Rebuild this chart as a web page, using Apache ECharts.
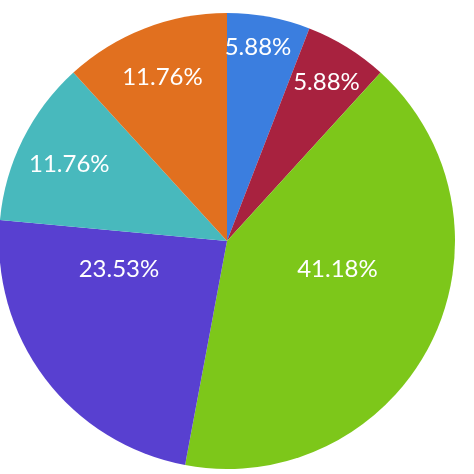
<!DOCTYPE html>
<html>
<head>
<meta charset="utf-8">
<script src="https://cdn.jsdelivr.net/npm/echarts@6/dist/echarts.min.js"></script>
<style>
html, body { margin: 0; padding: 0; background: #fff; }
#main { width: 474px; height: 474px; }
</style>
</head>
<body>
<div id="main"></div>
<script>
// slice counts, clockwise from 12 o'clock
var sliceValues = [1, 1, 7, 4, 2, 2];
var sliceColors = ['#3b7edf', '#a8223f', '#7dc71a', '#5840d0', '#48b9bd', '#e1701f'];

// where each label sits: fraction of radius, angle shift from the slice middle (deg)
var labelPlace = [[0.86, 1.5], [0.82, -0.4], [0.50, 12.2], [0.49, -22.3], [0.77, 0.4], [0.77, 0.4]];

var cx = 227, cy = 241, R = 228;
var total = sliceValues.reduce(function (a, b) { return a + b; }, 0);

var myChart = echarts.init(document.getElementById('main'));

var option = {
    animation: false,
    series: [
        {
            type: 'pie',
            center: [cx, cy],
            radius: R,
            startAngle: 90,
            clockwise: true,
            avoidLabelOverlap: false,
            label: {
                show: true,
                position: 'inside',
                color: '#fff',
                fontFamily: 'Lato',
                fontSize: 24,
                formatter: function (p) {
                    return (p.value / total * 100).toFixed(2) + '%';
                }
            },
            labelLine: { show: false },
            labelLayout: function (params) {
                var i = params.dataIndex;
                var before = 0;
                for (var k = 0; k < i; k++) before += sliceValues[k];
                var mid = 90 - (before + sliceValues[i] / 2) / total * 360;
                var a = (mid + labelPlace[i][1]) * Math.PI / 180;
                var r = labelPlace[i][0] * R;
                return {
                    x: cx + r * Math.cos(a),
                    y: cy - r * Math.sin(a),
                    align: 'center',
                    verticalAlign: 'middle'
                };
            },
            data: sliceValues.map(function (v, i) {
                return { value: v, itemStyle: { color: sliceColors[i] } };
            })
        }
    ]
};

myChart.setOption(option);
</script>
</body>
</html>
